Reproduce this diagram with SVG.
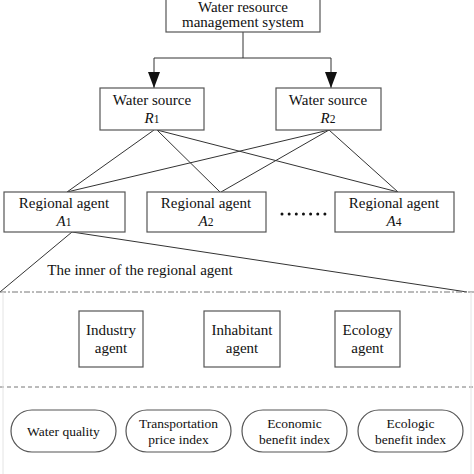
<svg xmlns="http://www.w3.org/2000/svg" width="474" height="474" viewBox="0 0 474 474">
<style>
text{font-family:"Liberation Serif","Times New Roman",serif;fill:#111;text-anchor:middle}
.t{font-size:15px}
.s{font-size:13.5px}
.box{fill:#fff;stroke:#555;stroke-width:1.2}
.ln{stroke:#333;stroke-width:1;fill:none}
.it{font-style:italic}
.sub{font-size:11.5px;font-style:normal}
</style>
<defs>
<marker id="arr" markerWidth="16" markerHeight="12" refX="16" refY="6" orient="auto" markerUnits="userSpaceOnUse" viewBox="0 0 16 12">
<path d="M0,0 L16,6 L0,12 Z" fill="#111"/>
</marker>
</defs>
<rect width="474" height="474" fill="#fff"/>
<g id="connectors">
<path class="ln" d="M243,32 V58 H154 V88" marker-end="url(#arr)"/>
<path class="ln" d="M243,58 H331 V88" marker-end="url(#arr)"/>
<line class="ln" x1="154" y1="130" x2="67" y2="192"/>
<line class="ln" x1="157" y1="130" x2="220" y2="192"/>
<line class="ln" x1="157" y1="130" x2="398" y2="192"/>
<line class="ln" x1="329" y1="130" x2="67" y2="192"/>
<line class="ln" x1="329" y1="130" x2="221" y2="192"/>
<line class="ln" x1="329" y1="130" x2="398" y2="192"/>
<line class="ln" x1="72" y1="232" x2="0" y2="292"/>
<line class="ln" x1="72" y1="232" x2="467" y2="292"/>
</g>
<g id="boundary">
<line x1="0" y1="292" x2="474" y2="292" stroke="#777" stroke-width="1" stroke-dasharray="6,2,2,2"/>
<line x1="0" y1="387" x2="474" y2="387" stroke="#777" stroke-width="1" stroke-dasharray="4,3"/>
<line x1="3" y1="292" x2="3" y2="474" stroke="#e4e4e4" stroke-width="1"/>
<line x1="471" y1="292" x2="471" y2="474" stroke="#e4e4e4" stroke-width="1"/>
<text x="140" y="275" class="t">The inner of the regional agent</text>
</g>
<g id="wrms">
<rect class="box" x="166" y="-10" width="154" height="42"/>
<text x="243" y="12" class="t">Water resource</text>
<text x="243" y="27" class="t">management system</text>
</g>
<g id="r1">
<rect class="box" x="100" y="88" width="104" height="42"/>
<text x="152" y="105" class="t">Water source</text>
<text x="152" y="123" class="t"><tspan class="it">R</tspan><tspan class="sub">1</tspan></text>
</g>
<g id="r2">
<rect class="box" x="276" y="88" width="105" height="42"/>
<text x="328" y="105" class="t">Water source</text>
<text x="328" y="123" class="t"><tspan class="it">R</tspan><tspan class="sub">2</tspan></text>
</g>
<g id="a1">
<rect class="box" x="4" y="192" width="121" height="40"/>
<text x="64" y="208" class="t">Regional agent</text>
<text x="64" y="226" class="t"><tspan class="it">A</tspan><tspan class="sub">1</tspan></text>
</g>
<g id="a2">
<rect class="box" x="147" y="192" width="119" height="40"/>
<text x="206" y="208" class="t">Regional agent</text>
<text x="206" y="226" class="t"><tspan class="it">A</tspan><tspan class="sub">2</tspan></text>
</g>
<g id="dots">
<line x1="282" y1="214" x2="325" y2="214" stroke="#111" stroke-width="3" stroke-linecap="round" stroke-dasharray="0,7.15"/>
</g>
<g id="a4">
<rect class="box" x="335" y="192" width="119" height="40"/>
<text x="394" y="208" class="t">Regional agent</text>
<text x="394" y="226" class="t"><tspan class="it">A</tspan><tspan class="sub">4</tspan></text>
</g>
<g id="industry">
<rect class="box" x="79" y="311" width="64" height="56"/>
<text x="111" y="335" class="t">Industry</text>
<text x="111" y="353" class="t">agent</text>
</g>
<g id="inhabitant">
<rect class="box" x="204" y="311" width="76" height="56"/>
<text x="242" y="335" class="t">Inhabitant</text>
<text x="242" y="353" class="t">agent</text>
</g>
<g id="ecology">
<rect class="box" x="335" y="311" width="65" height="56"/>
<text x="367.5" y="335" class="t">Ecology</text>
<text x="367.5" y="353" class="t">agent</text>
</g>
<g id="water-quality">
<rect class="box" x="11" y="410" width="105" height="42" rx="21"/>
<text x="63.5" y="436" class="s">Water quality</text>
</g>
<g id="transport">
<rect class="box" x="126" y="410" width="105" height="42" rx="21"/>
<text x="178.5" y="428" class="s">Transportation</text>
<text x="178.5" y="444" class="s">price index</text>
</g>
<g id="economic">
<rect class="box" x="242" y="410" width="105" height="42" rx="21"/>
<text x="294.5" y="428" class="s">Economic</text>
<text x="294.5" y="444" class="s">benefit index</text>
</g>
<g id="ecologic">
<rect class="box" x="358" y="410" width="105" height="42" rx="21"/>
<text x="410.5" y="428" class="s">Ecologic</text>
<text x="410.5" y="444" class="s">benefit index</text>
</g>
</svg>
